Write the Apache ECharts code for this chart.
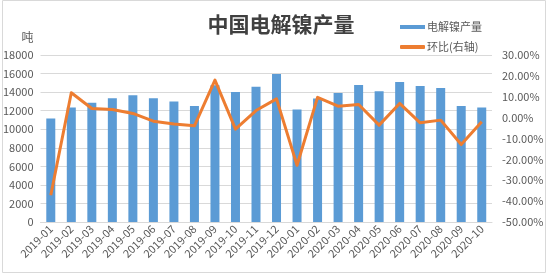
<!DOCTYPE html>
<html>
<head>
<meta charset="utf-8">
<script src="https://cdn.jsdelivr.net/npm/echarts@6/dist/echarts.min.js"></script>
<style>
html,body{margin:0;padding:0;background:#fff;}
#c{width:550px;height:274px;}
</style>
</head>
<body>
<div id="c"></div>
<script>
var categories = ['2019-01','2019-02','2019-03','2019-04','2019-05','2019-06','2019-07','2019-08','2019-09','2019-10','2019-11','2019-12','2020-01','2020-02','2020-03','2020-04','2020-05','2020-06','2020-07','2020-08','2020-09','2020-10'];
var production = [11150, 12350, 12850, 13350, 13650, 13350, 13000, 12490, 14750, 14000, 14580, 15950, 12130, 13300, 13900, 14760, 14080, 15080, 14650, 14440, 12490, 12350];
var momPct = [-37.2, 11.9, 4.4, 3.9, 2.0, -1.7, -3.1, -3.9, 18.0, -5.5, 3.4, 9.0, -22.8, 9.7, 5.5, 6.3, -3.6, 6.8, -2.5, -1.2, -12.9, -2.0];
var leftTicks = {min: 0, max: 18000, interval: 2000};
var rightTicks = {min: -50, max: 30, interval: 10};

var font = '"Noto Sans CJK SC", "Noto Sans", sans-serif';
var gray = '#595959';
var chart = echarts.init(document.getElementById('c'), null, {renderer: 'canvas'});
chart.setOption({
  animation: false,
  textStyle: {fontFamily: font},
  title: {
    text: '中国电解镍产量',
    left: 276, top: 9, textAlign: 'center',
    textStyle: {fontSize: 21, fontWeight: 'bold', color: '#404040', fontFamily: font}
  },
  legend: {
    orient: 'vertical', left: 395, top: 15,
    itemWidth: 25, itemHeight: 4, itemGap: 6,
    textStyle: {fontSize: 11, color: gray, lineHeight: 14, fontFamily: font, padding: [0,0,0,-3]},
    data: [{name: '电解镍产量', icon: 'rect'}, {name: '环比(右轴)', icon: 'roundRect'}]
  },
  grid: {left: 40, right: 58, top: 55, bottom: 52, containLabel: false},
  xAxis: {
    type: 'category', data: categories,
    axisLine: {lineStyle: {color: '#d9d9d9'}},
    axisTick: {show: false},
    axisLabel: {rotate: 45, fontSize: 11, color: gray, margin: 5, interval: 0, fontFamily: font}
  },
  yAxis: [{
    type: 'value', min: leftTicks.min, max: leftTicks.max, interval: leftTicks.interval,
    name: '吨', nameGap: 12,
    nameTextStyle: {fontSize: 12, color: gray, align: 'right', padding: [0, 7, 0, 0], fontFamily: font},
    axisLine: {show: false}, axisTick: {show: false},
    axisLabel: {fontSize: 11, color: gray, margin: 7, fontFamily: font,
      formatter: function (v) { return String(v); }},
    splitLine: {lineStyle: {color: '#d9d9d9'}}
  }, {
    type: 'value', min: rightTicks.min, max: rightTicks.max, interval: rightTicks.interval,
    position: 'right',
    axisLine: {show: false}, axisTick: {show: false},
    axisLabel: {fontSize: 11, color: gray, margin: 10, fontFamily: font,
      formatter: function (v) { return v.toFixed(2) + '%'; }},
    splitLine: {show: false}
  }],
  series: [{
    name: '电解镍产量', type: 'bar', data: production, barWidth: 9,
    itemStyle: {color: '#5B9BD5'}
  }, {
    name: '环比(右轴)', type: 'line', yAxisIndex: 1, data: momPct,
    symbol: 'none', lineStyle: {color: '#ED7D31', width: 3, join: 'round'},
    itemStyle: {color: '#ED7D31'}
  }],
  graphic: [{
    type: 'rect', shape: {x: 2.5, y: 0.5, width: 543, height: 272},
    style: {fill: 'none', stroke: '#d9d9d9', lineWidth: 1}, silent: true
  }]
});
</script>
</body>
</html>
